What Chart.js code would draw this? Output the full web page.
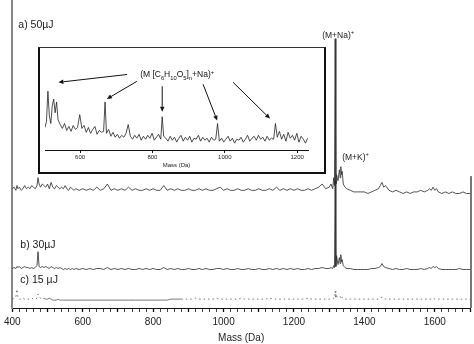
<!DOCTYPE html>
<html>
<head>
<meta charset="utf-8">
<script src="https://cdn.jsdelivr.net/npm/chart.js@4.4.0/dist/chart.umd.min.js"></script>
<style>
  html, body { margin: 0; padding: 0; background: #fff; }
  canvas { display: block; }
  #wrap { position: relative; width: 474px; height: 344px; }
  #inset { position: absolute; left: 38px; top: 47px; width: 284px; height: 124px; border: 2px solid #111; border-top: 1px solid #333; background: #fff; }
</style>
</head>
<body>
<div id="wrap">
  <canvas id="spectrum" width="474" height="344"></canvas>
  <div id="inset"><canvas id="insetChart" width="284" height="124"></canvas></div>
</div>
<script>
const FONT = "'Liberation Sans', Arial, sans-serif";

// mass axis shared by the three spectra (Da)
const mass = [
  400, 405, 410, 413, 416, 420, 425, 430, 435, 440,
  445, 450, 455, 460, 465, 470, 473, 476, 480, 485,
  490, 495, 500, 505, 510, 515, 520, 525, 530, 535,
  540, 545, 550, 555, 560, 565, 570, 575, 580, 590,
  600, 610, 620, 630, 640, 650, 660, 670, 680, 690,
  700, 710, 720, 730, 740, 750, 760, 770, 780, 790,
  800, 810, 820, 830, 840, 850, 860, 870, 880, 890,
  900, 910, 920, 930, 940, 950, 960, 970, 980, 990,
  1000, 1010, 1020, 1030, 1040, 1050, 1060, 1070, 1080, 1090,
  1100, 1110, 1120, 1130, 1140, 1150, 1160, 1170, 1180, 1190,
  1200, 1210, 1220, 1230, 1240, 1250, 1260, 1270, 1280, 1290,
  1300, 1305, 1310, 1313, 1315, 1317, 1319, 1321, 1325, 1329,
  1331, 1333, 1335, 1337, 1340, 1345, 1350, 1360, 1370, 1380,
  1390, 1400, 1410, 1420, 1430, 1440, 1445, 1450, 1455, 1460,
  1470, 1480, 1490, 1500, 1510, 1520, 1530, 1540, 1550, 1560,
  1570, 1580, 1585, 1590, 1595, 1600, 1605, 1610, 1620, 1630,
  1640, 1650, 1660, 1670, 1680, 1690, 1700
];

// a) 50 uJ
const trace50 = [
  3, 4, 2, 5, 3, 4, 2, 3, 5, 3,
  4, 3, 5, 4, 3, 5, 10, 6, 4, 6,
  5, 4, 6, 3, 7, 4, 3, 5, 4, 3,
  4, 3, 5, 3, 2, 4, 3, 2, 3, 2,
  3, 2, 3, 2, 4, 2, 3, 6, 2, 3,
  2, 3, 2, 4, 2, 3, 2, 2, 3, 2,
  3, 2, 2, 5, 2, 3, 2, 3, 2, 2,
  3, 2, 2, 3, 2, 3, 2, 2, 3, 4,
  2, 3, 2, 2, 3, 2, 2, 3, 2, 2,
  3, 2, 2, 3, 2, 4, 2, 3, 2, 3,
  2, 3, 2, 2, 3, 2, 3, 4, 6, 3,
  4, 6, 3, 10, 5, 98, 6, 12, 8, 15,
  10, 17, 12, 14, 6, 4, 3, 2, 1, 1,
  1, 1, 0, 1, 2, 3, 5, 7, 4, 5,
  2, 1, 2, 1, 0, 1, 0, 1, 1, 2,
  1, 2, 3, 2, 4, 2, 3, 1, 0, 1,
  0, 1, 0, 0, 1, 0, 0
];

// b) 30 uJ
const trace30 = [
  1, 2, 1, 3, 2, 3, 1, 2, 3, 2,
  2, 1, 2, 1, 2, 4, 18, 3, 2, 3,
  2, 3, 2, 1, 3, 2, 1, 2, 1, 2,
  1, 0, 1, 0, 1, 0, 1, 0, 1, 0,
  1, 0, 1, 0, 1, 1, 0, 2, 0, 1,
  0, 1, 0, 1, 0, 0, 1, 0, 1, 0,
  1, 0, 0, 2, 0, 1, 0, 1, 0, 0,
  1, 0, 0, 1, 0, 1, 0, 0, 1, 1,
  0, 1, 0, 0, 1, 0, 0, 1, 0, 0,
  1, 0, 0, 1, 0, 1, 0, 1, 0, 1,
  0, 1, 0, 0, 1, 0, 1, 1, 2, 1,
  1, 2, 1, 4, 2, 90, 3, 14, 5, 12,
  6, 15, 8, 10, 4, 2, 1, 1, 0, 0,
  0, 0, 0, 1, 1, 2, 3, 6, 3, 2,
  1, 0, 1, 0, 0, 1, 0, 0, 0, 1,
  0, 1, 2, 1, 3, 2, 3, 1, 0, 0,
  0, 0, 0, 1, 0, 0, 0
];

// c) 15 uJ
const trace15 = [
  0, 1, 2, 10, 1, 0, 0, 1, 0, 0,
  0, 0, 1, 0, 0, 1, 5, 2, 1, 0,
  1, 0, 0, 1, 0, -1, -1, -1, 0, -1,
  -1, -1, -1, -1, -1, -1, -1, -1, -1, -1,
  -1, -1, -1, -1, -1, -1, -1, -1, -1, -1,
  -1, -1, -1, -1, -1, -1, -1, -1, -1, -1,
  -1, -1, -1, -1, -1, 0, 0, 0, 0, 0,
  0, 0, 1, 0, 0, 0, 0, 0, 1, 0,
  0, 0, 0, 0, 0, 1, 0, 0, 0, 0,
  0, 0, 0, 1, 0, 0, 0, 0, 0, 0,
  0, 0, 0, 0, 1, 0, 0, 0, 0, 0,
  0, 0, 0, 1, 1, 8, 1, 3, 2, 3,
  2, 3, 1, 2, 1, 0, 0, 0, 0, 0,
  0, 0, 0, 0, 0, 0, 1, 2, 1, 0,
  0, 0, 0, 0, 0, 0, 0, 0, 0, 0,
  0, 0, 0, 0, 1, 0, 0, 0, 0, 0,
  0, 0, 0, 0, 0, 0, 0
];

// inset: zoom on the 50 uJ spectrum
const insetMass = [
  503, 507, 511, 515, 519, 523, 527, 531, 535, 539,
  545, 551, 557, 563, 569, 575, 581, 587, 593, 599,
  605, 611, 617, 623, 629, 635, 641, 647, 653, 659,
  665, 669, 673, 679, 685, 691, 697, 703, 709, 715,
  721, 727, 733, 739, 745, 751, 757, 763, 769, 775,
  781, 787, 793, 799, 805, 811, 817, 823, 827, 831,
  837, 843, 849, 855, 861, 867, 873, 879, 885, 891,
  897, 903, 909, 915, 921, 927, 933, 939, 945, 951,
  957, 963, 969, 975, 980, 985, 991, 997, 1003, 1009,
  1015, 1021, 1027, 1033, 1039, 1045, 1051, 1057, 1063, 1069,
  1075, 1081, 1087, 1093, 1099, 1105, 1111, 1117, 1123, 1129,
  1135, 1140, 1145, 1151, 1157, 1163, 1169, 1175, 1181, 1187,
  1193, 1199, 1205, 1211, 1217, 1223, 1229
];
const insetSignal = [
  18, 24, 55, 30, 22, 40, 47, 33, 44, 26,
  21, 17, 22, 15, 19, 14, 20, 16, 18, 31,
  17, 20, 13, 18, 12, 16, 19, 11, 15, 13,
  14, 44, 12, 16, 9, 13, 8, 11, 7, 10,
  8, 12, 21, 9, 6, 10, 7, 11, 5, 9,
  6, 10, 7, 12, 5, 8, 11, 6, 29, 9,
  7, 4, 9, 5, 8, 3, 7, 10, 4, 8,
  5, 9, 3, 7, 6, 10, 4, 8, 5, 7,
  3, 8, 5, 6, 22, 4, 7, 3, 6, 9,
  4, 7, 2, 6, 5, 8, 3, 6, 10, 4,
  7, 9, 5, 10, 6, 8, 4, 9, 5, 7,
  6, 22, 8, 14, 6, 11, 4, 13, 7, 10,
  5, 12, 3, 9, 6, 2, 7
];

const massTicks = [400, 600, 800, 1000, 1200, 1400, 1600];
const insetTicks = [600, 800, 1000, 1200];
const traceLabels = ['a) 50µJ', 'b) 30µJ', 'c) 15 µJ'];

function points(xs, ys) {
  return xs.map((x, i) => ({x: x, y: ys[i]}));
}

// text with sub/superscripts: parts = [[text, 'sub'|'sup'|undefined], ...]
function richText(ctx, x, y, parts, size, align) {
  const fontFor = p => (p[1] ? size * 0.68 : size) + 'px ' + FONT;
  let total = 0;
  parts.forEach(p => { ctx.font = fontFor(p); total += ctx.measureText(p[0]).width; });
  let cx = align === 'center' ? x - total / 2 : x;
  ctx.textAlign = 'left';
  ctx.textBaseline = 'alphabetic';
  parts.forEach(p => {
    ctx.font = fontFor(p);
    let dy = 0;
    if (p[1] === 'sub') dy = size * 0.3;
    if (p[1] === 'sup') dy = -size * 0.45;
    ctx.fillText(p[0], cx, y + dy);
    cx += ctx.measureText(p[0]).width;
  });
}

function arrow(ctx, x0, y0, x1, y1) {
  const ang = Math.atan2(y1 - y0, x1 - x0);
  const len = 5, half = 2.2;
  const bx = x1 - Math.cos(ang) * len, by = y1 - Math.sin(ang) * len;
  ctx.beginPath();
  ctx.moveTo(x0, y0);
  ctx.lineTo(bx, by);
  ctx.stroke();
  ctx.beginPath();
  ctx.moveTo(x1, y1);
  ctx.lineTo(bx - Math.sin(ang) * half, by + Math.cos(ang) * half);
  ctx.lineTo(bx + Math.sin(ang) * half, by - Math.cos(ang) * half);
  ctx.closePath();
  ctx.fill();
}

const spectrumLabels = {
  id: 'spectrumLabels',
  afterDatasetsDraw(chart) {
    const {ctx, chartArea, scales} = chart;
    const {x, ya, yb, yc} = scales;
    ctx.save();
    ctx.fillStyle = '#1a1a1a';
    richText(ctx, chartArea.left + 6, ya.getPixelForValue(107) + 3.5, [[traceLabels[0]]], 10.5, 'left');
    richText(ctx, chartArea.left + 8, yb.getPixelForValue(25) + 3.5, [[traceLabels[1]]], 10.5, 'left');
    richText(ctx, chartArea.left + 8, yc.getPixelForValue(20) + 3.5, [[traceLabels[2]]], 10.5, 'left');
    richText(ctx, x.getPixelForValue(1317) + 3, ya.getPixelForValue(98) - 1, [['(M+Na)'], ['+', 'sup']], 8.5, 'center');
    richText(ctx, x.getPixelForValue(1337), ya.getPixelForValue(23) + 3, [['(M+K)'], ['+', 'sup']], 8.5, 'left');
    // dark edge on the right of the lower spectra
    ctx.fillStyle = '#777';
    const top = ya.getPixelForValue(11);
    ctx.fillRect(chartArea.right, top, 2, chartArea.bottom - top);
    ctx.restore();
  }
};

const insetNotes = {
  id: 'insetNotes',
  afterDatasetsDraw(chart) {
    const {ctx, scales: {x, y}} = chart;
    const px = (m, v) => [x.getPixelForValue(m), y.getPixelForValue(v)];
    ctx.save();
    ctx.fillStyle = '#111';
    ctx.strokeStyle = '#111';
    ctx.lineWidth = 1;
    const [lx, ly] = px(766, 72);
    richText(ctx, lx, ly + 3, [['(M [C'], ['6', 'sub'], ['H'], ['10', 'sub'], ['O'], ['5', 'sub'], [']'], ['n', 'sub'], ['+Na)'], ['+', 'sup']], 8.5, 'left');
    [[730, 72, 540, 64], [757, 65, 674, 47], [827, 60, 827, 34], [940, 62, 979, 25], [1023, 64, 1125, 27]].forEach(a => {
      const [x0, y0] = px(a[0], a[1]);
      const [x1, y1] = px(a[2], a[3]);
      arrow(ctx, x0, y0, x1, y1);
    });
    ctx.restore();
  }
};

const hiddenY = {
  type: 'linear', position: 'left', stack: 'spectra',
  ticks: {display: false},
  grid: {display: false, drawTicks: false},
  border: {display: true, color: '#888', width: 2}
};

new Chart(document.getElementById('spectrum'), {
  type: 'line',
  data: {
    datasets: [
      {data: points(mass, trace50), yAxisID: 'ya', borderColor: '#2a2a2a', borderWidth: 0.8, clip: false},
      {data: points(mass, trace30), yAxisID: 'yb', borderColor: '#2a2a2a', borderWidth: 0.8, clip: false},
      {data: points(mass, trace15), yAxisID: 'yc', borderColor: '#555', borderWidth: 0.8, clip: false,
        segment: {borderDash: ctx => (ctx.p0.parsed.x < 490 || ctx.p0.parsed.x >= 880) ? [1.5, 3] : undefined}}
    ]
  },
  options: {
    responsive: false,
    animation: false,
    devicePixelRatio: 1,
    elements: {point: {radius: 0}, line: {tension: 0}},
    layout: {padding: {left: 7, right: 2, top: 0, bottom: 0}},
    plugins: {legend: {display: false}, tooltip: {enabled: false}},
    scales: {
      x: {
        type: 'linear', position: 'bottom', min: 400, max: 1700,
        afterBuildTicks: scale => {
          const ticks = [];
          for (let v = scale.min; v <= scale.max; v += 20) ticks.push({value: v});
          scale.ticks = ticks;
        },
        ticks: {
          autoSkip: false, maxRotation: 0, padding: 4, color: '#222',
          font: {family: FONT, size: 10},
          callback: v => massTicks.includes(v) ? String(v) : ''
        },
        grid: {
          drawOnChartArea: false, drawTicks: true, tickLength: 4, color: '#111',
          tickWidth: ctx => (ctx.tick && ctx.tick.value % 100 === 0) ? 1.3 : 0.8
        },
        border: {display: true, color: '#111', width: 1},
        title: {display: true, text: 'Mass (Da)', color: '#222', font: {family: FONT, size: 10}, padding: {top: 0, bottom: 0}}
      },
      ya: Object.assign({}, hiddenY, {stackWeight: 200, weight: 3, min: -2.5, max: 122.5}),
      yb: Object.assign({}, hiddenY, {stackWeight: 85, weight: 2, min: -12, max: 73}),
      yc: Object.assign({}, hiddenY, {stackWeight: 27, weight: 1, min: -9, max: 18})
    }
  },
  plugins: [spectrumLabels]
});

new Chart(document.getElementById('insetChart'), {
  type: 'line',
  data: {
    datasets: [{data: points(insetMass, insetSignal), borderColor: '#222', borderWidth: 0.8}]
  },
  options: {
    responsive: false,
    animation: false,
    devicePixelRatio: 1,
    elements: {point: {radius: 0}, line: {tension: 0}},
    layout: {padding: {left: 5, right: 16, top: 1, bottom: 4}},
    plugins: {legend: {display: false}, tooltip: {enabled: false}},
    scales: {
      x: {
        type: 'linear', min: 503, max: 1230,
        afterBuildTicks: scale => { scale.ticks = insetTicks.map(v => ({value: v})); },
        ticks: {
          autoSkip: false, maxRotation: 0, padding: 1, color: '#222',
          font: {family: FONT, size: 6, lineHeight: 1},
          callback: v => String(v)
        },
        grid: {drawOnChartArea: false, tickLength: 3, color: '#111'},
        border: {display: true, color: '#111', width: 1},
        title: {display: true, text: 'Mass (Da)', color: '#222', font: {family: FONT, size: 6, lineHeight: 1}, padding: {top: 1, bottom: 0}}
      },
      y: {display: false, min: -5, max: 98}
    }
  },
  plugins: [insetNotes]
});
</script>
</body>
</html>
